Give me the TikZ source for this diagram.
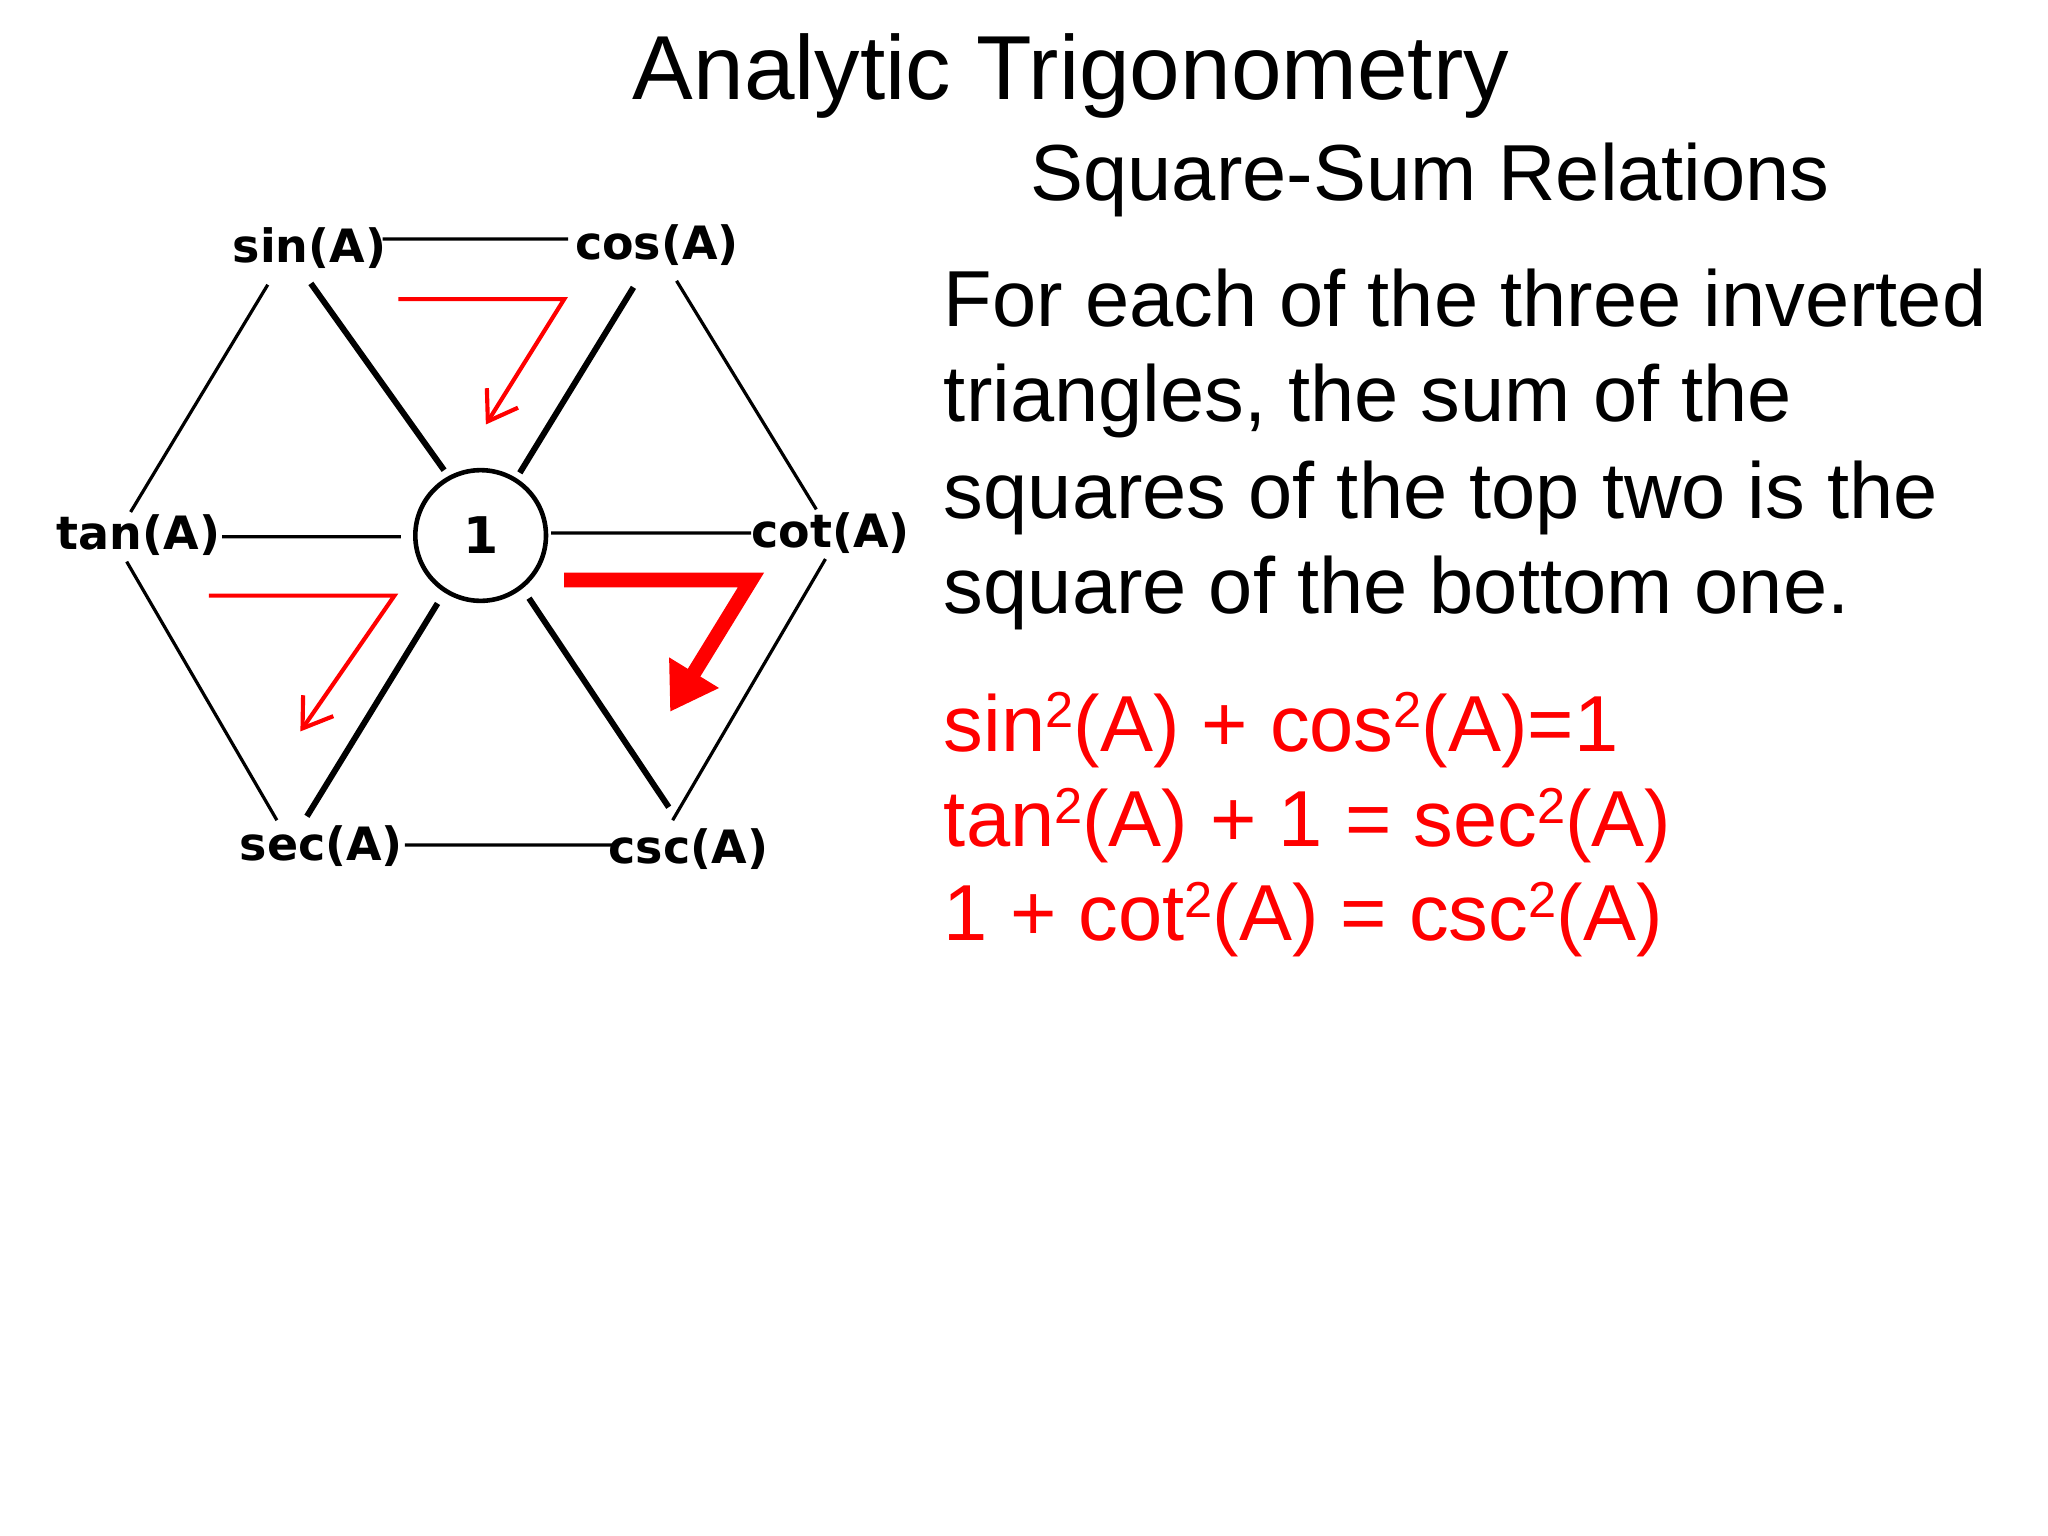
\documentclass[tikz,border=0pt]{standalone}
\usepackage{fontspec}
\setmainfont{Liberation Sans}
\newfontfamily\lab{DejaVu Sans}
\usetikzlibrary{arrows.meta}
\newcommand{\sq}{\raisebox{0.55ex}{\fontsize{11}{12}\selectfont 2}}
\begin{document}
\begin{tikzpicture}[x=0.01cm,y=-0.01cm,
  lbl/.style={font=\lab\bfseries\fontsize{10}{12}\selectfont,inner sep=1pt},
  thin/.style={line width=0.7pt},
  inner/.style={line width=1.3pt},
  redthin/.style={red,line width=0.9pt,-{Straight Barb[length=6pt,width=8pt]}},
  redthick/.style={red,line width=3.2pt,-{Triangle[length=10pt,width=12pt]}},
  body/.style={anchor=base west,inner sep=0pt,font=\fontsize{17.3}{20}\selectfont}]
\useasboundingbox (0,0) rectangle (1568,1176);
\node[font=\fontsize{19.8}{24}\selectfont] (title) at (820,58) {Analytic Trigonometry};
\node[font=\fontsize{17.3}{20}\selectfont] (sub) at (1095,138) {Square-Sum Relations};
\node[body] (t1) at (722,250) {For each of the three inverted};
\node[body] (t2) at (722,323) {triangles, the sum of the};
\node[body] (t3) at (722,397) {squares of the top two is the};
\node[body] (t4) at (722,470) {square of the bottom one.};
\node[body,red] (e1) at (722,575) {sin\sq(A) + cos\sq(A)=1};
\node[body,red] (e2) at (722,648) {tan\sq(A) + 1 = sec\sq(A)};
\node[body,red] (e3) at (722,720) {1 + cot\sq(A) = csc\sq(A)};
% labels
\node[lbl] (sin) at (237,190) {sin(A)};
\node[lbl] (cos) at (503,188) {cos(A)};
\node[lbl] (tan) at (106,410) {tan(A)};
\node[lbl] (cot) at (636,408) {cot(A)};
\node[lbl] (sec) at (246,648) {sec(A)};
\node[lbl] (csc) at (527,650) {csc(A)};
\node[draw,circle,line width=1pt,minimum size=1cm,inner sep=0pt,font=\lab\bfseries\fontsize{11}{13}\selectfont] (one) at (368,410) {1};
% coordinates
\coordinate (a1) at (293,183); \coordinate (a2) at (435,183);
\coordinate (b1) at (170,411); \coordinate (b2) at (307,411);
\coordinate (c1) at (422,408); \coordinate (c2) at (575,408);
\coordinate (d1) at (310,647); \coordinate (d2) at (470,647);
\coordinate (h1) at (205,218); \coordinate (h2) at (100,392);
\coordinate (h3) at (518,215); \coordinate (h4) at (625,390);
\coordinate (h5) at (97,430); \coordinate (h6) at (212,628);
\coordinate (h7) at (632,428); \coordinate (h8) at (515,628);
\coordinate (i1) at (238,217); \coordinate (i2) at (340,360);
\coordinate (i3) at (485,220); \coordinate (i4) at (398,362);
\coordinate (i5) at (335,462); \coordinate (i6) at (235,625);
\coordinate (i7) at (405,458); \coordinate (i8) at (512,618);
\draw[thin] (a1)--(a2) (b1)--(b2) (c1)--(c2) (d1)--(d2)
  (h1)--(h2) (h3)--(h4) (h5)--(h6) (h7)--(h8);
\draw[inner] (i1)--(i2) (i3)--(i4) (i5)--(i6) (i7)--(i8);
\coordinate (r1) at (305,229); \coordinate (r2) at (432,229); \coordinate (r3) at (372,325);
\coordinate (s1) at (160,456); \coordinate (s2) at (302,456); \coordinate (s3) at (230,560);
\coordinate (q1) at (432,444); \coordinate (q2) at (575,444); \coordinate (q3) at (513,545);
\draw[redthin] (r1)--(r2)--(r3);
\draw[redthin] (s1)--(s2)--(s3);
\draw[redthick,line join=miter] (q1)--(q2)--(q3);
\end{tikzpicture}
\end{document}
